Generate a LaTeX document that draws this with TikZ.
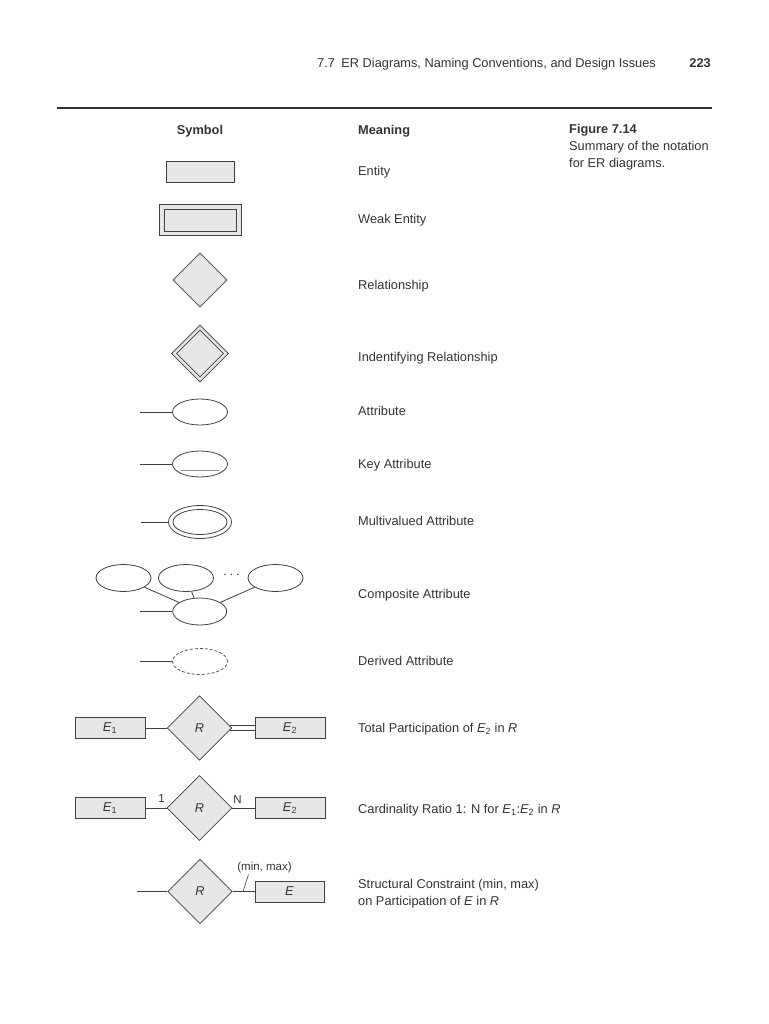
\documentclass[tikz,border=0pt]{standalone}
\usepackage{fontspec}
\setmainfont{Liberation Sans}
\usetikzlibrary{shapes.geometric}

\definecolor{shapefill}{HTML}{E6E7E8}
\newcommand{\ersub}[2]{\textit{#1}\textsubscript{#2}}

\begin{document}
\begin{tikzpicture}[x=1pt,y=-1pt,
  line/.style={draw=black!75,line width=0.8pt},
  label/.style={font=\fontsize{12.8}{15}\selectfont,text=black!80,anchor=base west,inner sep=0pt},
  title/.style={font=\fontsize{12.8}{15}\selectfont\bfseries,text=black!80,inner sep=0pt},
  tag/.style={font=\fontsize{11.5}{13}\selectfont,text=black!80,anchor=base,inner sep=0pt},
  entity/.style={line,fill=shapefill,rectangle,minimum width=70pt,minimum height=20.5pt,inner sep=0pt,
    font=\fontsize{12.8}{15}\selectfont,text=black!80},
  rel/.style={line,fill=shapefill,diamond,aspect=1,inner sep=0pt,
    font=\fontsize{12.8}{15}\selectfont\itshape,text=black!80},
  attr/.style={line,fill=white,ellipse,minimum width=55pt,minimum height=26pt,inner sep=0pt},
]
\useasboundingbox (0,0) rectangle (768,1024);

% page head
\node[label] (runhead) at (317,67.5) {7.7\hspace{0.5em}ER Diagrams, Naming Conventions, and Design Issues};
\node[title,anchor=base east] (pageno) at (711,67.5) {223};
\draw[draw=black!80,line width=1.2pt] (57,108) -- (712,108);

% column heads and caption
\node[title,anchor=base] (symhead) at (200,134.5) {Symbol};
\node[title,anchor=base west] (meanhead) at (358,134.5) {Meaning};
\node[title,anchor=base west] (fig) at (569,133.5) {Figure 7.14};
\node[label] (cap1) at (569,150.5) {Summary of the notation};
\node[label] (cap2) at (569,167.5) {for ER diagrams.};

% entity, weak entity
\node[entity,minimum width=68pt,minimum height=21pt] (ent) at (200,171.5) {};
\node[entity,minimum width=82pt,minimum height=31pt] (weakout) at (200,220) {};
\node[entity,minimum width=72pt,minimum height=21.5pt] (weakin) at (200.5,220.2) {};

% relationship, identifying relationship
\node[rel,minimum width=54pt,minimum height=54pt] (rel) at (200,280) {};
\node[rel,minimum width=57pt,minimum height=57pt] (idout) at (200,353.5) {};
\node[rel,minimum width=47pt,minimum height=47pt] (idin) at (200,353.5) {};

% attributes
\node[attr] (att) at (200,412) {};
\coordinate (attend) at (140,412);
\draw[line] (attend) -- (att.west);

\node[attr] (keyatt) at (200,464) {};
\coordinate (keyend) at (140,464);
\draw[line] (keyend) -- (keyatt.west);
\draw[draw=black!45,line width=0.8pt] (181,470) -- (219,470);

\node[attr,minimum width=63pt,minimum height=33pt] (multout) at (200,522) {};
\node[attr,minimum width=54pt,minimum height=25pt] (multin) at (200,522) {};
\coordinate (multend) at (141,522);
\draw[line] (multend) -- (multout.west);

% composite attribute
\node[attr,minimum height=27pt] (compa) at (123.5,578) {};
\node[attr,minimum height=27pt] (compb) at (186,578) {};
\node[attr,minimum height=27pt] (compc) at (275.5,578) {};
\node[attr,minimum width=54pt,minimum height=27pt] (comp) at (199.7,611.5) {};
\node[font=\fontsize{14}{14}\selectfont,text=black!80,inner sep=0pt] (dots) at (231.5,575) {$\cdots$};
\draw[line] (compa) -- (comp);
\draw[line] (compb) -- (comp);
\draw[line] (compc) -- (comp);
\coordinate (compend) at (140,611.5);
\draw[line] (compend) -- (comp.west);

% derived attribute
\node[attr,dash pattern=on 3pt off 2pt,draw=black!65] (der) at (200,661.5) {};
\coordinate (derend) at (140,661.5);
\draw[line] (derend) -- (der.west);

% total participation
\node[entity] (tpa) at (110,728) {\ersub{E}{1}};
\node[rel,minimum width=64.5pt,minimum height=64.5pt] (tpr) at (199.5,728) {R};
\node[entity] (tpb) at (290,728) {\ersub{E}{2}};
\draw[line] (tpa.east) -- (tpr.west);
\draw[line] ([shift={(-2,2.2pt)}]tpr.east) -- ([yshift=2.2pt]tpb.west);
\draw[line] ([shift={(-2,-2.2pt)}]tpr.east) -- ([yshift=-2.2pt]tpb.west);

% cardinality ratio
\node[entity] (cra) at (110,808) {\ersub{E}{1}};
\node[rel,minimum width=65pt,minimum height=65pt] (crr) at (199.5,808) {R};
\node[entity] (crb) at (290,808) {\ersub{E}{2}};
\draw[line] (cra.east) -- (crr.west);
\draw[line] (crr.east) -- (crb.west);
\node[tag] (one) at (161.5,802.5) {1};
\node[tag] (many) at (237.5,803.5) {N};

% structural constraint
\coordinate (scend) at (137,891.5);
\node[rel,minimum width=64.5pt,minimum height=64.5pt] (scr) at (200,891.5) {R};
\node[entity,minimum width=69pt,minimum height=21pt] (sce) at (289.5,891.5) {\textit{E}};
\draw[line] (scend) -- (scr.west);
\draw[line] (scr.east) -- (sce.west);
\coordinate (tickfoot) at (243,891.5);
\coordinate (tickhead) at (248.5,874.5);
\draw[line,line width=0.6pt] (tickfoot) -- (tickhead);
\node[tag] (minmax) at (264.5,870.5) {(min, max)};

% meanings
\node[label] (m1) at (358,175.5) {Entity};
\node[label] (m2) at (358,223.5) {Weak Entity};
\node[label] (m3) at (358,289.5) {Relationship};
\node[label] (m4) at (358,361.5) {Indentifying Relationship};
\node[label] (m5) at (358,415.5) {Attribute};
\node[label] (m6) at (358,468.5) {Key Attribute};
\node[label] (m7) at (358,525.5) {Multivalued Attribute};
\node[label] (m8) at (358,598.5) {Composite Attribute};
\node[label] (m9) at (358,665.5) {Derived Attribute};
\node[label] (m10) at (358,732.5) {Total Participation of \ersub{E}{2} in \textit{R}};
\node[label] (m11) at (358,813.5) {Cardinality Ratio 1: N for \ersub{E}{1}:\ersub{E}{2} in \textit{R}};
\node[label] (m12) at (358,888) {Structural Constraint (min, max)};
\node[label] (m13) at (358,905) {on Participation of \textit{E} in \textit{R}};

\end{tikzpicture}
\end{document}
